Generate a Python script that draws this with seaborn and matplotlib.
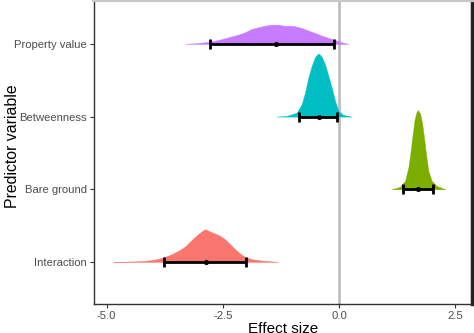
import numpy as np
import pandas as pd
import matplotlib
matplotlib.use("Agg")
import matplotlib.pyplot as plt
import seaborn as sns

# ---- data ----
predictors = ["Property value", "Betweenness", "Bare ground", "Interaction"]
colors = ["#C77CFF", "#00BFC4", "#7CAE00", "#F8766D"]
estimate = [-1.35, -0.43, 1.70, -2.86]
lower = [-2.77, -0.86, 1.38, -3.76]
upper = [-0.10, -0.04, 2.02, -2.00]

prop_x = [-3.312, -3.097, -2.810, -2.595, -2.380, -2.165, -2.022, -1.878, -1.735,
          -1.591, -1.448, -1.305, -1.161, -1.054, -0.946, -0.803, -0.660, -0.516,
          -0.373, -0.229, -0.086, 0.057, 0.201]
prop_h = [0, 0.009, 0.028, 0.055, 0.092, 0.129, 0.161, 0.207, 0.230,
          0.253, 0.266, 0.266, 0.248, 0.253, 0.243, 0.220, 0.184, 0.152,
          0.115, 0.083, 0.055, 0.023, 0]
betw_x = [-1.340, -1.125, -0.910, -0.803, -0.731, -0.660, -0.588, -0.516, -0.444,
          -0.373, -0.301, -0.229, -0.158, -0.086, -0.014, 0.093, 0.272]
betw_h = [0, 0.009, 0.055, 0.170, 0.331, 0.537, 0.698, 0.822, 0.872,
          0.826, 0.721, 0.560, 0.399, 0.216, 0.078, 0.023, 0]
bare_x = [1.133, 1.312, 1.419, 1.491, 1.541, 1.584, 1.627, 1.670, 1.699,
          1.742, 1.785, 1.828, 1.871, 1.921, 1.993, 2.100, 2.280]
bare_h = [0, 0.032, 0.115, 0.298, 0.528, 0.758, 0.964, 1.070, 1.088,
          1.042, 0.918, 0.712, 0.482, 0.253, 0.115, 0.046, 0]
inter_x = [-4.853, -4.459, -4.172, -3.957, -3.778, -3.598, -3.455, -3.312, -3.204,
           -3.097, -2.989, -2.882, -2.774, -2.667, -2.559, -2.452, -2.344, -2.237,
           -2.129, -2.022, -1.878, -1.663, -1.305]
inter_h = [0, 0.005, 0.014, 0.032, 0.060, 0.106, 0.152, 0.211, 0.280,
           0.344, 0.404, 0.450, 0.418, 0.390, 0.358, 0.312, 0.243, 0.175,
           0.115, 0.069, 0.037, 0.018, 0]

dens_x = [prop_x, betw_x, bare_x, inter_x]
dens_h = [prop_h, betw_h, bare_h, inter_h]

xticks = [-5.0, -2.5, 0.0, 2.5]
xtick_labels = ["-5.0", "-2.5", "0.0", "2.5"]

# ---- plot ----
sns.set_theme(style="white")
plt.rcParams["font.family"] = ["Liberation Sans", "DejaVu Sans"]

ypos = {p: len(predictors) - i for i, p in enumerate(predictors)}
summary = pd.DataFrame({"predictor": predictors, "estimate": estimate,
                        "lower": lower, "upper": upper})
summary["y"] = summary["predictor"].map(ypos)

fig = plt.figure(figsize=(4.74, 3.33), dpi=100)
ax = fig.add_axes([94 / 474, 29 / 333, 378 / 474, 304 / 333])

ax.axvline(0, color="#BEBEBE", lw=2, zorder=1)

for p, c, xs, hs in zip(predictors, colors, dens_x, dens_h):
    base = ypos[p]
    xs = np.asarray(xs)
    hs = np.asarray(hs)
    ax.fill_between(xs, base, base + hs, color=c, lw=0.3, edgecolor=c, zorder=2)

for _, r in summary.iterrows():
    ax.errorbar(r["estimate"], r["y"],
                xerr=[[r["estimate"] - r["lower"]], [r["upper"] - r["estimate"]]],
                fmt="none", ecolor="black", elinewidth=2, capsize=3.5, capthick=2,
                zorder=3)

sns.scatterplot(data=summary, x="estimate", y="y", color="black", s=14,
                edgecolor="black", linewidth=0, ax=ax, zorder=4, legend=False)

ax.set_xlim(-5.27, 2.86)
ax.set_ylim(0.42, 4.605)
ax.set_xticks(xticks)
ax.set_xticklabels(xtick_labels)
ax.set_yticks([ypos[p] for p in predictors])
ax.set_yticklabels(predictors)

ax.tick_params(axis="both", which="both", direction="out", length=3, width=0.8,
               color="#333333", labelcolor="#4D4D4D", labelsize=8.1, pad=2,
               bottom=True, left=True)
ax.set_xlabel("Effect size", fontsize=11, color="black", labelpad=1)
ax.set_ylabel("Predictor variable", fontsize=11.4, color="black", labelpad=4)
ax.yaxis.set_label_coords(-0.195, 0.52)

for side in ["left", "bottom"]:
    ax.spines[side].set_color("#333333")
    ax.spines[side].set_linewidth(1.0)
ax.spines["right"].set_color("#222222")
ax.spines["right"].set_linewidth(2.5)
ax.spines["top"].set_color("#C8C8C8")
ax.spines["top"].set_linewidth(3)
ax.grid(False)

fig.savefig("out.png", dpi=100)
